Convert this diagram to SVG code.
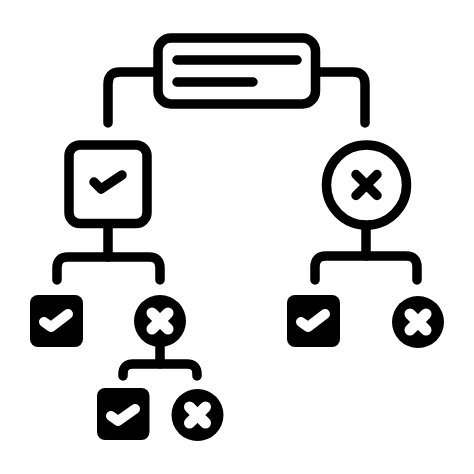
<svg xmlns="http://www.w3.org/2000/svg" width="474" height="474" viewBox="0 0 474 474">
<style>
.ln{fill:none;stroke:#000;stroke-width:9.5;stroke-linecap:round;stroke-linejoin:round}
.fl{fill:#000}
.wl{fill:none;stroke:#fff;stroke-width:10;stroke-linecap:round;stroke-linejoin:round}
.wx{fill:none;stroke:#fff;stroke-width:11;stroke-linecap:round}
</style>
<rect width="474" height="474" fill="#fff"/>
<g id="connectors">
<path class="ln" d="M153 72 H120 Q108 72 108 84 V123"/>
<path class="ln" d="M320 72 H353 Q365 72 365 84 V123"/>
<path class="ln" d="M108 228 V257"/>
<path class="ln" d="M57 280 V268 Q57 257 68 257 H149 Q160 257 160 268 V280"/>
<path class="ln" d="M366 230 V256"/>
<path class="ln" d="M315 280 V267 Q315 256 326 256 H406 Q417 256 417 267 V280"/>
<path class="ln" d="M160 347 V364"/>
<path class="ln" d="M123 376 V374 Q123 364 133 364 H187 Q197 364 197 374 V376"/>
</g>
<g id="root">
<rect class="ln" x="158" y="38" width="157.5" height="66" rx="13"/>
<path class="ln" d="M177 60 H297 M177 82 H253"/>
</g>
<g id="check-node">
<rect class="ln" x="69" y="145" width="78" height="78.5" rx="11"/>
<path class="ln" d="M94 182 L101 189 L122 175"/>
</g>
<g id="cross-node">
<circle class="ln" cx="366.5" cy="185" r="40"/>
<path class="ln" d="M356 174.5 L377 195.5 M377 174.5 L356 195.5"/>
</g>
<g id="leaf-check-1">
<rect class="fl" x="30" y="295" width="53" height="52" rx="8"/>
<path class="wl" d="M44 322 L51 327 L68 314"/>
</g>
<g id="leaf-cross-1">
<circle class="fl" cx="160" cy="321" r="26"/>
<path class="wx" d="M152 313 L168 329 M168 313 L152 329"/>
</g>
<g id="leaf-check-2">
<rect class="fl" x="287" y="295" width="53" height="52" rx="8"/>
<path class="wl" d="M301 322 L308 327 L325 314"/>
</g>
<g id="leaf-cross-2">
<circle class="fl" cx="418" cy="322" r="26"/>
<path class="wx" d="M410 314 L426 330 M426 314 L410 330"/>
</g>
<g id="leaf-check-3">
<rect class="fl" x="97" y="388" width="52.5" height="52" rx="8"/>
<path class="wl" d="M111 416 L118 421 L135 409"/>
</g>
<g id="leaf-cross-3">
<circle class="fl" cx="197.5" cy="415" r="26"/>
<path class="wx" d="M189.5 407 L205.5 423 M205.5 407 L189.5 423"/>
</g>
</svg>
